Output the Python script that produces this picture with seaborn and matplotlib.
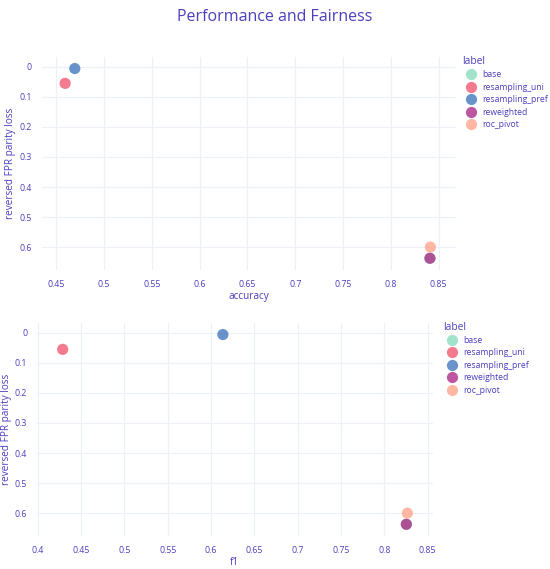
import pandas as pd
import numpy as np
import matplotlib
matplotlib.use("Agg")
import matplotlib.pyplot as plt
from matplotlib.ticker import FuncFormatter
import seaborn as sns

# data
labels = ["base", "resampling_uni", "resampling_pref", "reweighted", "roc_pivot"]
accuracy = [0.8408, 0.4594, 0.4695, 0.8408, 0.8413]
f1 = [0.8254, 0.4288, 0.6137, 0.8254, 0.8266]
fpr_loss = [0.637, 0.055, 0.0057, 0.637, 0.600]
colors = ["#8bdcbe", "#f05a71", "#4378bf", "#ae2c87", "#ffa58c"]

df = pd.DataFrame({"label": labels, "accuracy": accuracy, "f1": f1,
                   "reversed FPR parity loss": fpr_loss})

sns.set_style("white")
plt.rcParams["font.family"] = ["Open Sans", "DejaVu Sans"]
text_col = "#4b3fbf"
grid_col = "#edf0f7"

fig = plt.figure(figsize=(5.5, 5.69), dpi=100)
ax1 = fig.add_axes([0.076, 0.5255, 0.753, 0.3745])
ax2 = fig.add_axes([0.067, 0.058, 0.720, 0.3745])

fmt = FuncFormatter(lambda v, p: "%g" % round(v, 4))

panels = [
    (ax1, "accuracy", (0.435, 0.868), np.arange(0.45, 0.851, 0.05), -0.062, (0.831, 0.911)),
    (ax2, "f1", (0.399, 0.856), np.arange(0.40, 0.851, 0.05), -0.062, (0.797, 0.444)),
]

for ax, xcol, xlim, xticks, ylab_x, leg_pos in panels:
    sns.scatterplot(data=df, x=xcol, y="reversed FPR parity loss", hue="label",
                    hue_order=labels, palette=colors, s=65, alpha=0.8,
                    edgecolor="none", ax=ax, zorder=3)
    ax.set_xlim(*xlim)
    ax.set_ylim(0.676, -0.033)
    ax.set_xticks(xticks)
    ax.set_yticks(np.arange(0, 0.61, 0.1))
    ax.xaxis.set_major_formatter(fmt)
    ax.yaxis.set_major_formatter(fmt)
    ax.grid(True, color=grid_col, linewidth=0.9, zorder=0)
    ax.set_axisbelow(True)
    for s in ax.spines.values():
        s.set_visible(False)
    ax.tick_params(length=0, labelsize=6.3, colors=text_col, pad=7)
    ax.set_xlabel(xcol, color=text_col, fontsize=7.2)
    ax.set_ylabel("reversed FPR parity loss", color=text_col, fontsize=7.2)
    ax.xaxis.set_label_coords(0.5, -0.099)
    ax.yaxis.set_label_coords(ylab_x, 0.5)
    leg = ax.legend(title="label", loc="upper left", frameon=False,
                    fontsize=6.2, title_fontsize=7.4, alignment="left",
                    handletextpad=0.3, labelspacing=0.40, borderpad=0.1,
                    bbox_to_anchor=leg_pos, bbox_transform=fig.transFigure)
    for t in leg.get_texts():
        t.set_color(text_col)
    leg.get_title().set_color(text_col)

fig.suptitle("Performance and Fairness", x=0.5, y=0.984, fontsize=11.5,
             color=text_col)

fig.savefig("out.png", dpi=100)
